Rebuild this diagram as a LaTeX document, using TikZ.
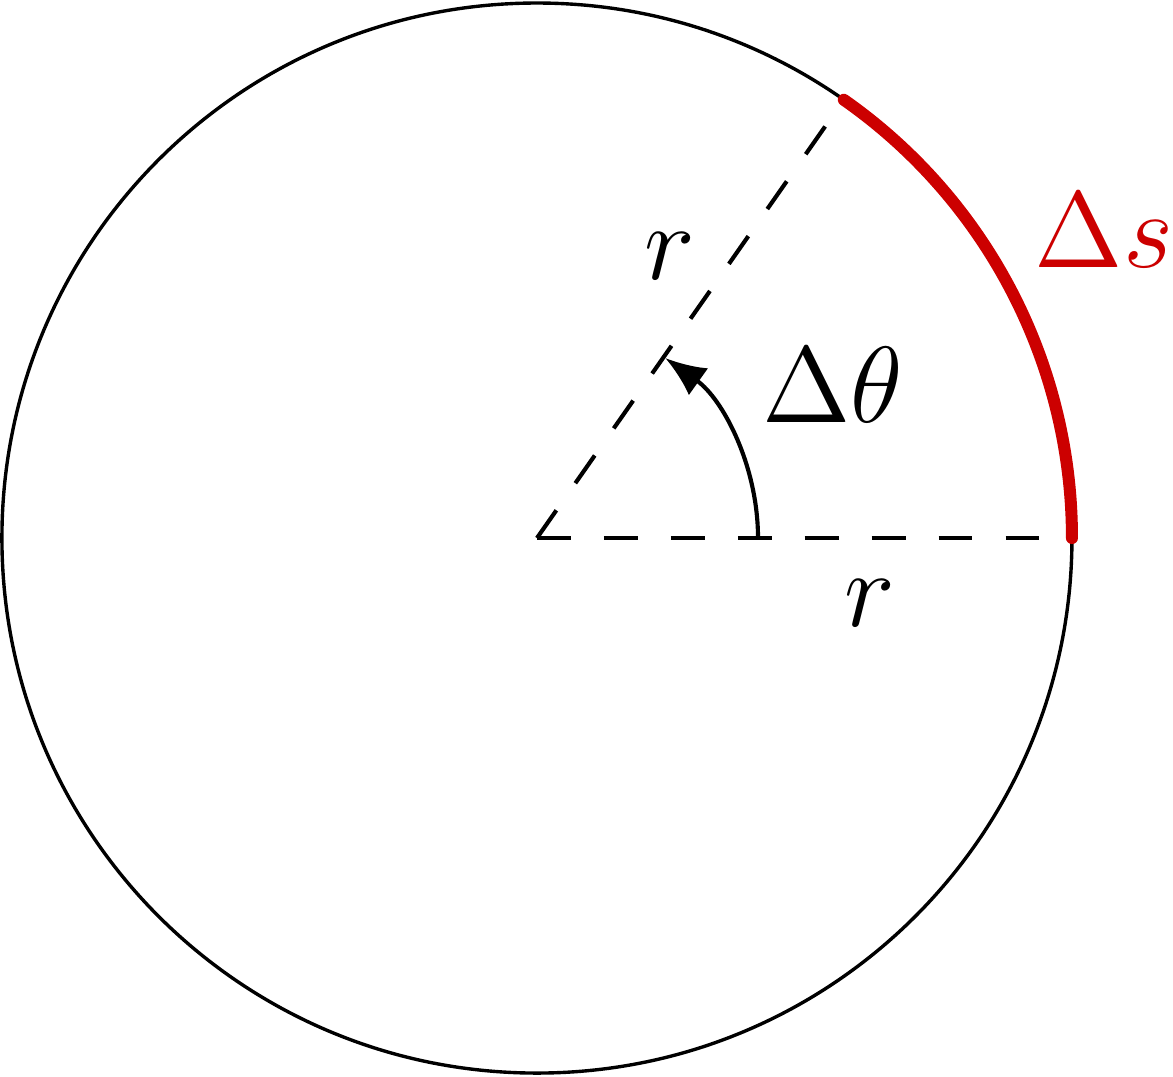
\documentclass[tikz,border=0pt]{standalone}
\usetikzlibrary{arrows.meta}
\definecolor{arcred}{RGB}{204,0,0}
\begin{document}
\begin{tikzpicture}[
  lbl/.style={inner sep=0pt, font=\fontsize{15}{18}\selectfont},
  radline/.style={line width=0.55pt, dash pattern=on 4.5pt off 4.4pt},
  rim/.style={line width=0.45pt},
  sarc/.style={line width=1.6pt, arcred, line cap=round},
  angarrow/.style={line width=0.55pt, -{Latex[length=5.4pt,width=4.4pt]}}
]
\useasboundingbox (-2.509,-2.514) rectangle (2.972,2.514);
\coordinate (O) at (0,0);
\coordinate (A) at (0:2.5);
\coordinate (B) at (55:2.5);
\coordinate (P) at (0:1.033);
% circle
\draw[rim] (O) circle[radius=2.5];
% red arc
\draw[sarc] (A) arc[start angle=0, end angle=55, radius=2.5];
% radii
\draw[radline] (O) -- (A);
\draw[radline] (O) -- (B);
% angle arrow
\draw[angarrow] (P) arc[start angle=0, end angle=54.5, radius=1.033];
% labels
\node[lbl] (r1) at (0.621,1.318) {$r$};
\node[lbl] (r2) at (1.556,-0.304) {$r$};
\node[lbl] (dth) at (1.383,0.715) {$\Delta\theta$};
\node[lbl, text=arcred] (ds) at (2.650,1.439) {$\Delta s$};
\end{tikzpicture}
\end{document}
